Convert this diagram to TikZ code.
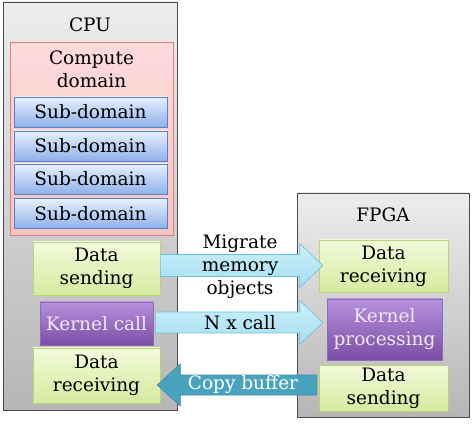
\documentclass[tikz,border=0pt]{standalone}
\usepackage{fontspec}
\setmainfont{DejaVu Serif}
\usetikzlibrary{calc}
\definecolor{grayT}{HTML}{EDEDED}
\definecolor{grayB}{HTML}{B6B6B6}
\definecolor{grayD}{HTML}{4D4D4D}
\definecolor{pinkF}{HTML}{FDDADA}
\definecolor{pinkB}{HTML}{F7C4C4}
\definecolor{pinkD}{HTML}{E57C7C}
\definecolor{blueT}{HTML}{E8F0FD}
\definecolor{blueB}{HTML}{8EB1EB}
\definecolor{blueD}{HTML}{5B7FC6}
\definecolor{grnT}{HTML}{F3FADB}
\definecolor{grnB}{HTML}{D6EA9E}
\definecolor{grnD}{HTML}{B7D47A}
\definecolor{purT}{HTML}{B690DD}
\definecolor{purB}{HTML}{7A4EA5}
\definecolor{purD}{HTML}{8C6CB2}
\definecolor{purTx}{HTML}{F2E8FB}
\definecolor{cyT}{HTML}{CBEFF9}
\definecolor{cyB}{HTML}{A6DFF1}
\definecolor{cyD}{HTML}{6CC0D8}
\definecolor{teal}{HTML}{4AA3BE}
\definecolor{tealD}{HTML}{3A88A2}
\tikzset{
  x=1pt, y=1pt,
  txt/.style={font=\fontsize{18.5}{23}\selectfont, align=center, inner sep=0pt},
  container/.style={draw=grayD, line width=0.8pt, top color=grayT, bottom color=grayB},
  compbox/.style={draw=pinkD, line width=0.8pt, top color=pinkF, bottom color=pinkB},
  subbox/.style={txt, draw=blueD, line width=0.6pt, top color=blueT, bottom color=blueB, minimum width=153pt, minimum height=30pt},
  grnbox/.style={txt, draw=grnD, line width=0.6pt, top color=grnT, bottom color=grnB},
  purbox/.style={txt, draw=purD, line width=0.6pt, top color=purT, bottom color=purB, text=purTx},
  cyarrow/.style={draw=cyD, line width=0.6pt, top color=cyT, bottom color=cyB},
  tealarrow/.style={draw=tealD, line width=0.6pt, fill=teal},
}
% arrow polygon: style, start coord, end coord, half shaft, half head, head length (signed)
\newcommand\blockarrow[6]{%
  \path[#1] let \p1=(#2), \p2=(#3) in
    (\x1,\y1+#4) -- (\x2-#6,\y1+#4) -- (\x2-#6,\y1+#5) -- (\x2,\y1) --
    (\x2-#6,\y1-#5) -- (\x2-#6,\y1-#4) -- (\x1,\y1-#4) -- cycle;}
\begin{document}
\begin{tikzpicture}
\useasboundingbox (0,0) rectangle (474,-430);

% CPU side
\node[container, minimum width=174pt, minimum height=408pt, inner sep=0pt] (cpu) at (90,-206) {};
\node[txt] (cpul) at (90,-25) {CPU};
\node[compbox, minimum width=163pt, minimum height=193pt, inner sep=0pt] (comp) at (91.5,-138.5) {};
\node[txt] (compl) at (91.5,-69) {Compute\\domain};
\node[subbox] (sd1) at (90.5,-112) {Sub-domain};
\node[subbox] (sd2) at (90.5,-146) {Sub-domain};
\node[subbox] (sd3) at (90.5,-179) {Sub-domain};
\node[subbox] (sd4) at (90.5,-213.5) {Sub-domain};
\node[grnbox, minimum width=127pt, minimum height=53pt] (dsc) at (96.5,-268.5) {Data\\sending};
\node[purbox, minimum width=113pt, minimum height=43pt] (kc) at (96.5,-323.5) {Kernel call};
\node[grnbox, minimum width=127pt, minimum height=55pt] (drc) at (96.5,-375.5) {Data\\receiving};

% FPGA side
\node[container, minimum width=172pt, minimum height=224pt, inner sep=0pt] (fpga) at (383,-305) {};
\node[txt] (fpgal) at (383,-215) {FPGA};
\node[grnbox, minimum width=129pt, minimum height=52pt] (drf) at (383.5,-266) {Data\\receiving};
\node[purbox, minimum width=115pt, minimum height=61pt] (kp) at (384.5,-329.5) {Kernel\\processing};
\node[grnbox, minimum width=129pt, minimum height=46pt] (dsf) at (383.5,-388) {Data\\sending};

% arrows
\coordinate (a1s) at (dsc.east |- 0,-265.5);
\coordinate (a1e) at ($(drf.west |- 0,-265.5)+(4,0)$);
\blockarrow{cyarrow}{a1s}{a1e}{11}{22}{23}
\node[txt] (mig) at (240,-267) {Migrate\\memory\\objects};

\coordinate (a2s) at ($(kc.east |- 0,-322.5)+(2,0)$);
\coordinate (a2e) at ($(kp.west |- 0,-322.5)+(-4,0)$);
\blockarrow{cyarrow}{a2s}{a2e}{10.5}{22}{23}
\node[txt] (nx) at (240,-323) {N x call};

\coordinate (a3s) at ($(dsf.west |- 0,-385)+(-2,0)$);
\coordinate (a3e) at ($(drc.east |- 0,-385)+(-3,0)$);
\blockarrow{tealarrow}{a3s}{a3e}{10}{21}{-23}
\node[txt, text=white] (cb) at (243,-385) {Copy buffer};
\end{tikzpicture}
\end{document}
